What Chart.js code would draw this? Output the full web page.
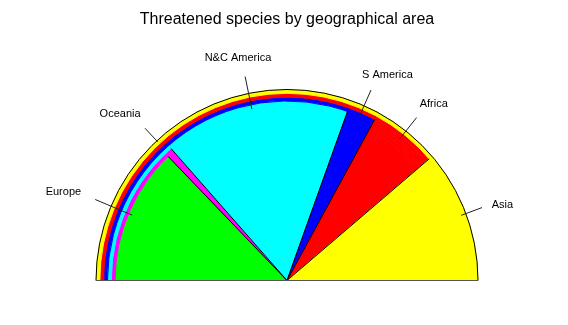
<!DOCTYPE html>
<html>
<head>
<meta charset="utf-8">
<script src="https://cdn.jsdelivr.net/npm/chart.js@4"></script>
<style>
  body { margin: 0; background: #fff; }
  #wrap { width: 568px; height: 325px; }
</style>
</head>
<body>
<div id="wrap"><canvas id="fanChart"></canvas></div>
<script>
// data (IUCN threatened species counts)
const areas = ['Africa', 'Asia', 'Europe', 'N&C America', 'S America', 'Oceania'];
const threatened = [5994, 7737, 1987, 4716, 5097, 2093];
const colors = ['#FF0000', '#FFFF00', '#00FF00', '#00FFFF', '#0000FF', '#FF00FF'];

// label placement (degrees counter-clockwise from the right, radius as fraction of fan radius)
const lineAngles = [51.5, 20.5, 157.1, 101.6, 66.2, 133];
const lineInner = [0.948, 0.974, 0.88, 0.916, 0.932, 0.993];
const lineOuter = 1.09;
const textAngles = [50.2, 19.4, 158.3, 102.4, 64.0, 135];
const textRadii = [1.2, 1.196, 1.26, 1.195, 1.2, 1.236];

// fan plot: sectors sorted by size, each one a little shorter (shrink 2%)
const order = areas.map((a, i) => i).sort((a, b) => threatened[b] - threatened[a]);
const shrink = 0.02;

// every ring k shows sector k from the left, then the bigger sectors peeking out behind it
const datasets = order.map((idx, k) => {
    const vals = [], cols = [];
    vals.push(threatened[order[k]]);
    cols.push(colors[order[k]]);
    for (let j = k - 1; j >= 0; j--) {
        vals.push(threatened[order[j]] - threatened[order[j + 1]]);
        cols.push(colors[order[j]]);
    }
    const last = k === order.length - 1;
    return {
        data: vals,
        backgroundColor: cols,
        borderColor: cols,   // same colour, just closes the seams between rings
        borderWidth: 1,
        weight: last ? (1 - shrink * k) / shrink : 1
    };
});

const fanLines = {
    id: 'fanLines',
    afterDatasetsDraw(chart) {
        const c = chart.ctx;
        const outer = chart.getDatasetMeta(0).data[0];
        const cx = outer.x, cy = outer.y, R = outer.outerRadius;
        c.save();
        c.strokeStyle = '#000';
        c.lineWidth = 1;
        // radial edges of each sector
        order.forEach((idx, k) => {
            const el = chart.getDatasetMeta(k).data[0];
            c.beginPath();
            c.moveTo(cx, cy);
            c.lineTo(cx + el.outerRadius * Math.cos(el.endAngle), cy + el.outerRadius * Math.sin(el.endAngle));
            c.stroke();
        });
        // outer rim and base line
        c.beginPath();
        c.arc(cx, cy, R, outer.startAngle, outer.endAngle);
        c.stroke();
        c.beginPath();
        c.moveTo(cx - R, cy);
        c.lineTo(cx + R, cy);
        c.strokeStyle = '#555';
        c.stroke();

        // labels
        c.strokeStyle = '#222';
        c.fillStyle = '#000';
        c.font = '11px "Liberation Sans", Arial, sans-serif';
        c.textAlign = 'center';
        c.textBaseline = 'middle';
        areas.forEach((name, i) => {
            const a = lineAngles[i] * Math.PI / 180;
            c.beginPath();
            c.moveTo(cx + R * lineInner[i] * Math.cos(a), cy - R * lineInner[i] * Math.sin(a));
            c.lineTo(cx + R * lineOuter * Math.cos(a), cy - R * lineOuter * Math.sin(a));
            c.stroke();
            const t = textAngles[i] * Math.PI / 180;
            c.fillText(name, cx + R * textRadii[i] * Math.cos(t), cy - R * textRadii[i] * Math.sin(t));
        });
        c.restore();
    }
};

new Chart(document.getElementById('fanChart'), {
    type: 'pie',
    data: {
        labels: order.map(i => areas[i]),
        datasets: datasets
    },
    options: {
        responsive: true,
        maintainAspectRatio: false,
        animation: false,
        rotation: -90,
        circumference: 180,
        layout: {
            padding: { left: 95.5, right: 89.5, top: 0, bottom: 44 }
        },
        plugins: {
            legend: { display: false },
            tooltip: { enabled: false },
            title: {
                display: true,
                text: 'Threatened species by geographical area',
                color: '#000',
                font: { family: '"Liberation Sans", Arial, sans-serif', size: 16, weight: 'normal' },
                padding: { top: 10.4, bottom: 59.4 }
            }
        }
    },
    plugins: [fanLines]
});
</script>
</body>
</html>
